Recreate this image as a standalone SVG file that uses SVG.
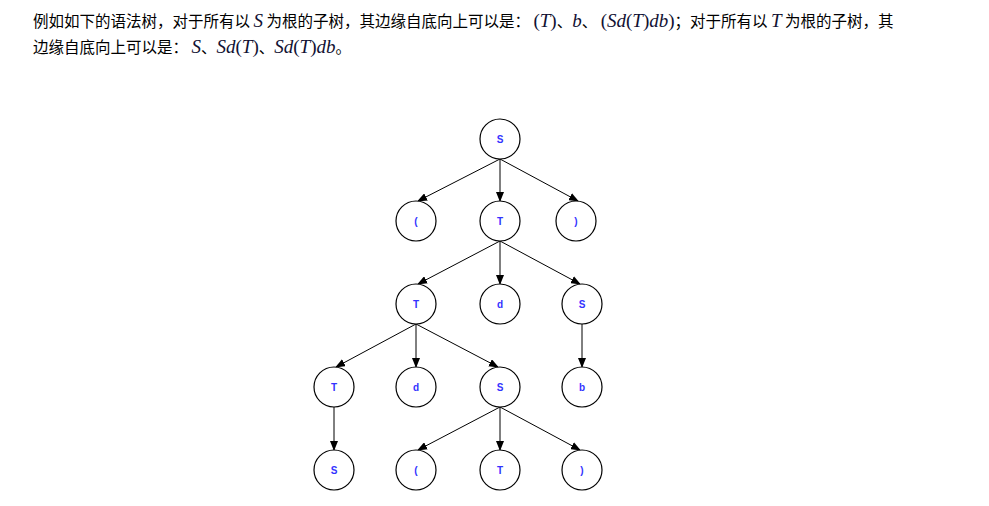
<svg xmlns="http://www.w3.org/2000/svg" width="989" height="506" viewBox="0 0 989 506">
<defs>
<style>
.t{font-family:"Noto Sans CJK SC","Liberation Sans",sans-serif;font-size:15.5px;fill:#000}
.m{font-family:"Liberation Serif",serif;font-style:italic;font-size:19px;fill:#111133}
.u{font-style:normal}
circle{fill:#fff;stroke:#000;stroke-width:1.2}
.n text{font-family:"Liberation Sans",sans-serif;font-size:10px;font-weight:bold;fill:#3333ff;text-anchor:middle}
#edges line{stroke:#000;stroke-width:1;marker-end:url(#a)}
</style>
<marker id="a" markerWidth="10" markerHeight="8" refX="9" refY="4" orient="auto" markerUnits="userSpaceOnUse"><path d="M0,0L10,4L0,8z" fill="#000"/></marker>
</defs>
<rect width="989" height="506" fill="#fff"/>
<text class="t" x="33" y="27">例如如下的语法树，对于所有以 <tspan class="m">S</tspan> 为根的子树，其边缘自底向上可以是： <tspan class="m"><tspan class="u">(</tspan>T<tspan class="u">)</tspan></tspan>、<tspan class="m">b</tspan>、 <tspan class="m"><tspan class="u">(</tspan>Sd<tspan class="u">(</tspan>T<tspan class="u">)</tspan>db<tspan class="u">)</tspan></tspan>；对于所有以 <tspan class="m">T</tspan> 为根的子树，其</text>
<text class="t" x="33" y="53">边缘自底向上可以是： <tspan class="m">S</tspan>、<tspan class="m">Sd<tspan class="u">(</tspan>T<tspan class="u">)</tspan></tspan>、<tspan class="m">Sd<tspan class="u">(</tspan>T<tspan class="u">)</tspan>db</tspan>。</text>
<g id="edges">
<line x1="500" y1="159" x2="418" y2="201"/>
<line x1="500" y1="159" x2="500" y2="201"/>
<line x1="500" y1="159" x2="578" y2="201"/>
<line x1="500" y1="241" x2="418" y2="284"/>
<line x1="500" y1="241" x2="500" y2="284"/>
<line x1="500" y1="241" x2="580" y2="284"/>
<line x1="416" y1="324" x2="336" y2="367"/>
<line x1="416" y1="324" x2="416" y2="367"/>
<line x1="416" y1="324" x2="498" y2="367"/>
<line x1="582" y1="324" x2="582" y2="367"/>
<line x1="334" y1="407" x2="334" y2="450"/>
<line x1="500" y1="407" x2="418" y2="450"/>
<line x1="500" y1="407" x2="500" y2="450"/>
<line x1="500" y1="407" x2="580" y2="450"/>
</g>
<g id="n1" class="n"><circle cx="500" cy="139" r="20"/><text x="500" y="143">S</text></g>
<g id="n2" class="n"><circle cx="416" cy="221" r="20"/><text x="416" y="225">(</text></g>
<g id="n3" class="n"><circle cx="500" cy="221" r="20"/><text x="500" y="225">T</text></g>
<g id="n4" class="n"><circle cx="576" cy="221" r="20"/><text x="576" y="225">)</text></g>
<g id="n5" class="n"><circle cx="416" cy="304" r="20"/><text x="416" y="308">T</text></g>
<g id="n6" class="n"><circle cx="500" cy="304" r="20"/><text x="500" y="308">d</text></g>
<g id="n7" class="n"><circle cx="582" cy="304" r="20"/><text x="582" y="308">S</text></g>
<g id="n8" class="n"><circle cx="334" cy="387" r="20"/><text x="334" y="391">T</text></g>
<g id="n9" class="n"><circle cx="416" cy="387" r="20"/><text x="416" y="391">d</text></g>
<g id="n10" class="n"><circle cx="500" cy="387" r="20"/><text x="500" y="391">S</text></g>
<g id="n11" class="n"><circle cx="582" cy="387" r="20"/><text x="582" y="391">b</text></g>
<g id="n12" class="n"><circle cx="334" cy="470" r="20"/><text x="334" y="474">S</text></g>
<g id="n13" class="n"><circle cx="416" cy="470" r="20"/><text x="416" y="474">(</text></g>
<g id="n14" class="n"><circle cx="500" cy="470" r="20"/><text x="500" y="474">T</text></g>
<g id="n15" class="n"><circle cx="582" cy="470" r="20"/><text x="582" y="474">)</text></g>
</svg>
